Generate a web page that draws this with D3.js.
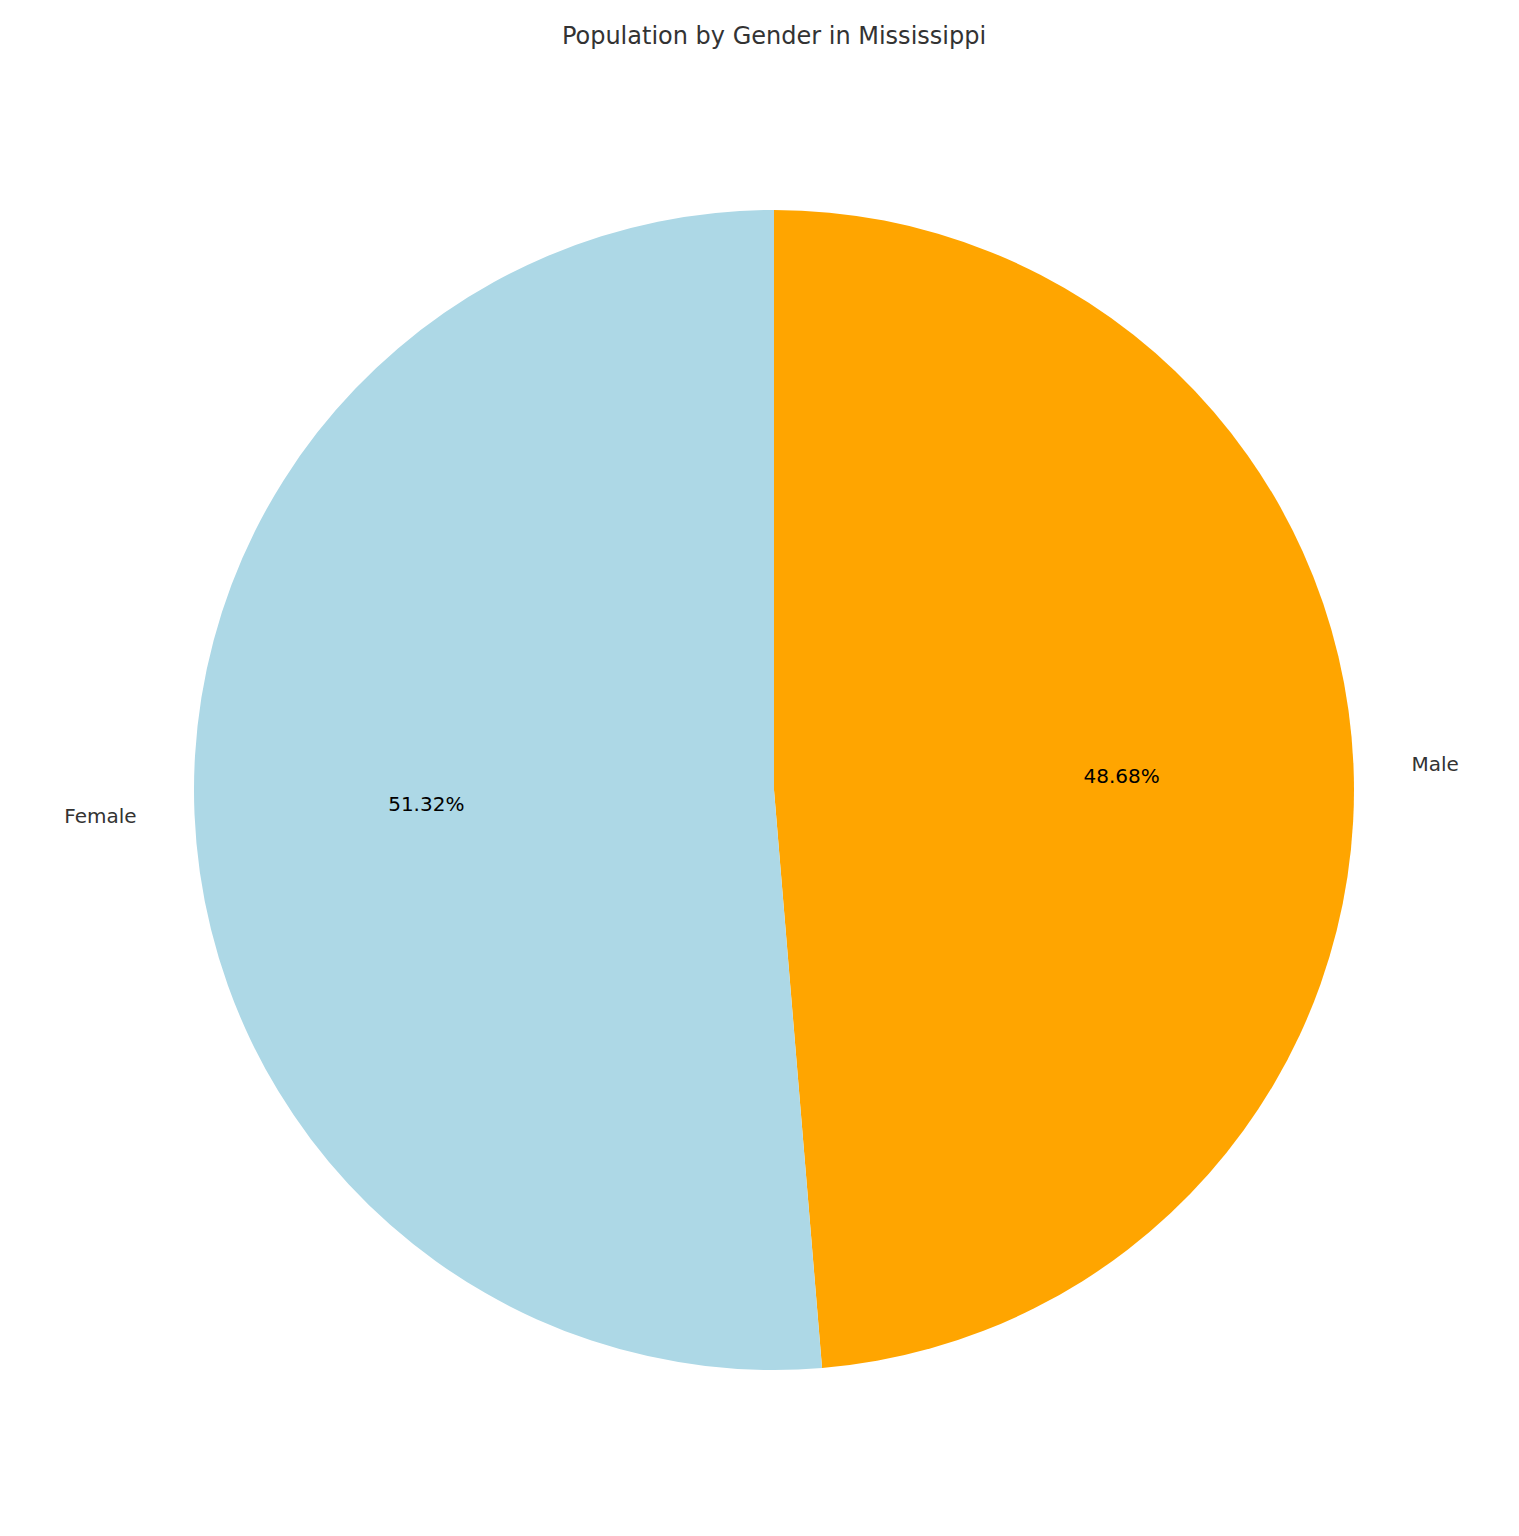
<!DOCTYPE html>
<html><head><meta charset="utf-8">
<script src="https://cdn.jsdelivr.net/npm/d3@7"></script>
<style>body{margin:0;background:#fff}</style>
</head><body>
<svg id="c" width="1519" height="1536"></svg>
<script>
const categories = ["Male", "Female"];
const values = [48.68, 51.32];
const colors = ["#FFA500", "#ADD8E6"];

const svg = d3.select("#c");
const cx = 774, cy = 790, r = 580;
const font = "DejaVu Sans, sans-serif";

svg.append("text").attr("x", 774).attr("y", 36).attr("text-anchor", "middle")
  .attr("dominant-baseline", "central").attr("font-family", font).attr("font-size", 24)
  .attr("fill", "#333").text("Population by Gender in Mississippi");

const data = categories.map((c, i) => ({c, v: values[i], col: colors[i]}));
const pie = d3.pie().value(d => d.v).sort(null);
const arcs = pie(data);
const g = svg.append("g").attr("transform", `translate(${cx},${cy})`);
const arc = d3.arc().innerRadius(0).outerRadius(r);
g.selectAll("path").data(arcs).join("path").attr("d", arc).attr("fill", d => d.data.col);

const total = d3.sum(values);
arcs.forEach(a => {
  const m = (a.startAngle + a.endAngle) / 2;
  const sx = Math.sin(m), sy = -Math.cos(m);
  g.append("text").attr("x", sx * r * 0.6).attr("y", sy * r * 0.6)
    .attr("text-anchor", "middle").attr("dominant-baseline", "central")
    .attr("font-family", font).attr("font-size", 20).attr("fill", "#000")
    .text((a.data.v / total * 100).toFixed(2) + "%");
  g.append("text").attr("x", sx * r * 1.1).attr("y", sy * r * 1.1)
    .attr("text-anchor", sx > 0 ? "start" : "end").attr("dominant-baseline", "central")
    .attr("font-family", font).attr("font-size", 20).attr("fill", "#333")
    .text(a.data.c);
});
</script>
</body></html>
